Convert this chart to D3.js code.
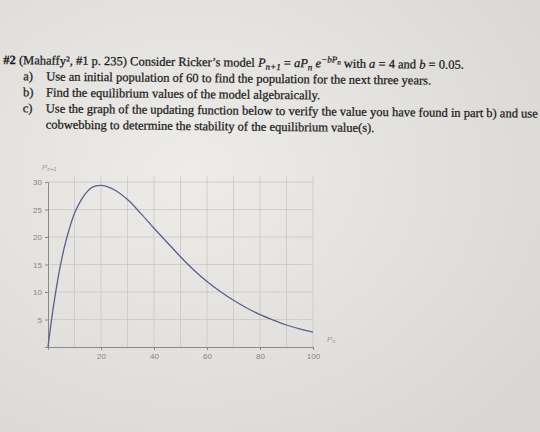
<!DOCTYPE html>
<html><head><meta charset="utf-8">
<script src="https://cdn.jsdelivr.net/npm/d3@7"></script>
<style>body{margin:0;background:#e6e4e1;}svg{display:block;}</style>
</head><body>
<svg id="c" width="540" height="432"></svg>
<script>
const pn = [0,1,2,3,4,6,8,10,12,14,16,18,20,22,25,30,35,40,45,50,55,60,65,70,75,80,85,90,95,100];
const pn1 = [0,3.8,7.2,10.3,13.1,17.8,21.4,24.3,26.3,27.8,28.8,29.3,29.4,29.2,28.6,26.8,24.3,21.6,19.0,16.4,14.0,11.9,10.1,8.5,7.1,5.9,4.9,4.0,3.3,2.7];
const xTicks = [20,40,60,80,100];
const yTicks = [5,10,15,20,25,30];
const svg = d3.select("#c");
const defs = svg.append("defs");
const g0 = defs.append("radialGradient").attr("id","bg").attr("cx","35%").attr("cy","40%").attr("r","80%");
g0.append("stop").attr("offset","0%").attr("stop-color","#eeece9");
g0.append("stop").attr("offset","100%").attr("stop-color","#d9d7d4");
svg.append("rect").attr("width",540).attr("height",432).attr("fill","url(#bg)");

const tx = svg.append("g").attr("font-family","Liberation Serif, DejaVu Serif, serif").attr("font-size",12.5).attr("fill","#1a1a1a").attr("stroke","#1a1a1a").attr("stroke-width",0.25);
const t0 = tx.append("text").attr("x",4).attr("y",64).attr("transform","rotate(0.6)");
t0.append("tspan").attr("font-weight","bold").text("#2");
t0.append("tspan").text(" (Mahaffy², #1 p. 235) Consider Ricker’s model ");
t0.append("tspan").attr("font-style","italic").text("P");
t0.append("tspan").attr("font-size",9).attr("dy",3).attr("font-style","italic").text("n+1");
t0.append("tspan").attr("dy",-3).text(" = ");
t0.append("tspan").attr("font-style","italic").text("aP");
t0.append("tspan").attr("font-size",9).attr("dy",3).attr("font-style","italic").text("n");
t0.append("tspan").attr("dy",-3).attr("font-style","italic").text(" e");
t0.append("tspan").attr("font-size",9).attr("dy",-5).attr("font-style","italic").text("−bP");
t0.append("tspan").attr("font-size",7).attr("dy",2).attr("font-style","italic").text("n");
t0.append("tspan").attr("dy",3).text("  with ");
t0.append("tspan").attr("font-style","italic").text("a");
t0.append("tspan").text(" = 4 and ");
t0.append("tspan").attr("font-style","italic").text("b");
t0.append("tspan").text(" = 0.05.");
const lines = [["a)","Use an initial population of 60 to find the population for the next three years.",80],
["b)","Find the equilibrium values of the model algebraically.",96],
["c)","Use the graph of the updating function below to verify the value you have found in part b) and use",112],
["","cobwebbing to determine the stability of the equilibrium value(s).",128]];
lines.forEach(([l,t,y])=>{
  tx.append("text").attr("x",24).attr("y",y).attr("transform","rotate(0.6)").text(l);
  tx.append("text").attr("x",47).attr("y",y).attr("transform","rotate(0.6)").text(t);
});

const x = d3.scaleLinear().domain([0,100]).range([48,313]);
const y = d3.scaleLinear().domain([0,30]).range([347,182]);
const ch = svg.append("g");
const gx = d3.range(10,101,10), gy = d3.range(5,31,5);
ch.selectAll(".vx").data(gx).join("line").attr("x1",d=>x(d)).attr("x2",d=>x(d)).attr("y1",y(0)).attr("y2",y(31)).attr("stroke","#c9c7c4").attr("stroke-width",0.8);
ch.selectAll(".hy").data(gy).join("line").attr("x1",x(0)).attr("x2",x(100)).attr("y1",d=>y(d)).attr("y2",d=>y(d)).attr("stroke","#c9c7c4").attr("stroke-width",0.8);
const xa = ch.append("g").attr("transform",`translate(0,${y(0)})`).call(d3.axisBottom(x).tickValues(xTicks).tickSize(3));
const ya = ch.append("g").attr("transform",`translate(${x(0)},0)`).call(d3.axisLeft(y).tickValues(yTicks).tickSize(3));
[xa,ya].forEach(a=>{a.select(".domain").attr("stroke","#8a8886");a.selectAll("line").attr("stroke","#8a8886");a.selectAll("text").attr("fill","#858381").attr("font-family","Liberation Sans, Arial, sans-serif").attr("font-size",8);});
ch.append("text").attr("x",x(0)-6).attr("y",y(30)-12).attr("font-family","Liberation Sans, sans-serif").attr("font-style","italic").attr("font-size",8).attr("fill","#9a9896").text("P").append("tspan").attr("font-size",5.5).attr("dy",1).text("n+1");
ch.append("text").attr("x",x(100)+14).attr("y",y(0)-5).attr("font-family","Liberation Sans, sans-serif").attr("font-style","italic").attr("font-size",8).attr("fill","#9a9896").text("P").append("tspan").attr("font-size",5.5).attr("dy",1).text("n");
ch.append("path").datum(pn.map((d,i)=>[d,pn1[i]])).attr("d",d3.line().x(d=>x(d[0])).y(d=>y(d[1])).curve(d3.curveMonotoneX)).attr("fill","none").attr("stroke","#5a5f8e").attr("stroke-width",1.3);
</script>
</body></html>
